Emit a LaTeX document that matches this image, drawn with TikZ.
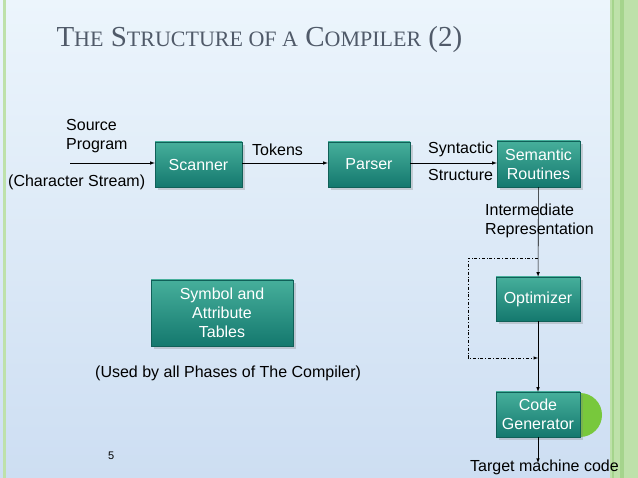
\documentclass[tikz,border=0pt]{standalone}
\usepackage{fontspec}
\usetikzlibrary{shadows}
\setmainfont{Liberation Sans}
\newfontfamily\serif{Liberation Serif}
\definecolor{bgtop}{RGB}{236,245,252}
\definecolor{bgbot}{RGB}{205,222,242}
\definecolor{boxtop}{RGB}{70,175,155}
\definecolor{boxbot}{RGB}{20,120,110}
\definecolor{titlec}{RGB}{80,90,105}
\definecolor{band}{RGB}{190,225,170}
\definecolor{band2}{RGB}{165,212,140}
\definecolor{ball}{RGB}{120,200,60}
\begin{document}
\begin{tikzpicture}[x=1pt,y=-1pt,
 box/.style={draw=boxbot!80!black,line width=0.4pt,top color=boxtop,bottom color=boxbot,text=white,font=\fontsize{16}{19}\selectfont,align=center,inner sep=0pt,drop shadow={opacity=0.3}},
 lab/.style={font=\fontsize{16}{19}\selectfont,align=left,inner sep=0pt},
 arr/.style={-latex,line width=0.6pt}]
\useasboundingbox (0,0) rectangle (638,478);
\shade[top color=bgtop,bottom color=bgbot] (0,0) rectangle (638,478);
\fill[band] (3,0) rectangle (6,478);
\fill[band] (610,0) rectangle (638,478);
\fill[band2] (612,0) rectangle (614,478);
\fill[band2] (620,0) rectangle (624,478);
\node[anchor=west,text=titlec,font=\serif\fontsize{29}{31}\selectfont] (title) at (53,40) {T{\fontsize{22}{24}\selectfont HE} S{\fontsize{22}{24}\selectfont TRUCTURE OF A} C{\fontsize{22}{24}\selectfont OMPILER} (2)};
\fill[ball] (580,415) circle (22);
\node[box,minimum width=87,minimum height=45] (scan) at (198.5,164.5) {Scanner};
\node[box,minimum width=82,minimum height=45] (pars) at (369,164.5) {Parser};
\node[box,minimum width=83,minimum height=46] (sem) at (538.5,164) {Semantic\\Routines};
\node[box,minimum width=84,minimum height=44] (opt) at (538,299) {Optimizer};
\node[box,minimum width=84,minimum height=45] (cg) at (538,414.5) {Code\\Generator};
\node[box,minimum width=142,minimum height=66] (sym) at (222,313) {Symbol and\\Attribute\\Tables};
\coordinate (src) at (70,163);
\coordinate (out) at (538,463);
\coordinate (d1) at (538,258);
\coordinate (d2) at (468,258);
\coordinate (d3) at (468,358);
\coordinate (d4) at (538,358);
\draw[arr] (src) -- (scan.west|-src);
\draw[arr] (scan.east|-src) -- (pars.west|-src);
\draw[arr] (pars.east|-src) -- (sem.west|-src);
\draw[arr] (sem) -- (opt);
\draw[arr] (opt) -- (cg);
\draw[arr] (cg) -- (out);
\draw[arr,dash dot,line width=0.5pt] (d1) -- (d2) -- (d3) -- (d4);
\node[lab,anchor=north west] (l1) at (66,119) {Source\\Program};
\node[lab,anchor=west] (l2) at (8,182) {(Character Stream)};
\node[lab,anchor=west] (l3) at (252,150) {Tokens};
\node[lab,anchor=west] (l4) at (428,149) {Syntactic};
\node[lab,anchor=west] (l5) at (428,175) {Structure};
\node[lab,anchor=north west] (l6) at (485,204) {Intermediate\\Representation};
\node[lab,anchor=west] (l7) at (95,373) {(Used by all Phases of The Compiler)};
\node[anchor=west,font=\fontsize{11}{12}\selectfont,inner sep=0pt] (pg) at (108,456) {5};
\node[lab,anchor=west] (l8) at (470,467) {Target machine code};
\end{tikzpicture}
\end{document}
